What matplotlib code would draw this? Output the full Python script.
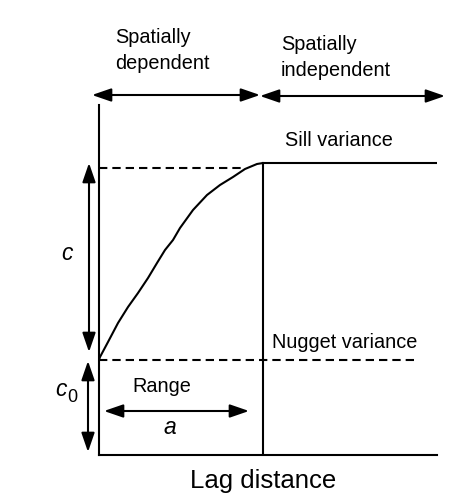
import matplotlib
matplotlib.use("Agg")
import matplotlib.pyplot as plt

plt.rcParams['font.family'] = ['Liberation Sans', 'DejaVu Sans']
plt.rcParams['mathtext.fontset'] = 'custom'
plt.rcParams['mathtext.it'] = 'Liberation Sans:italic'
plt.rcParams['mathtext.rm'] = 'Liberation Sans'

# Semivariogram data (arbitrary lag / variance units)
lag = [0, 1, 9, 19, 29, 39, 49, 58, 66, 74, 81, 94, 108, 121, 134, 146, 158, 164]
gamma = [95, 98, 113, 132, 148, 162, 177, 192, 205, 215, 227, 245, 260, 270,
         278, 286, 291, 292]
nugget = 95
sill = 292
sill_dashed = 287
range_a = 164
x_max = 338
y_max = 350
nugget_dash_end = 319
sill_dash_end = 145

labels_top = ["Spatially\ndependent", "Spatially\nindependent"]
label_sill = "Sill variance"
label_nugget = "Nugget variance"
label_range = "Range"
xlabel = "Lag distance"

fig = plt.figure(figsize=(4.74, 4.97), dpi=100)
ax = fig.add_axes([99 / 474, 42 / 497, 338 / 474, 350 / 497])
ax.set_xlim(0, x_max)
ax.set_ylim(0, y_max)
for s in ['top', 'right']:
    ax.spines[s].set_visible(False)
for s in ['left', 'bottom']:
    ax.spines[s].set_linewidth(1.5)
ax.set_xticks([])
ax.set_yticks([])

lw = 1.5
# curve
ax.plot(lag, gamma, color='black', lw=lw, solid_joinstyle='round',
        solid_capstyle='round')
# sill flat line
ax.plot([range_a, x_max], [sill, sill], color='black', lw=lw)
# range vertical line
ax.plot([range_a, range_a], [0, sill], color='black', lw=lw)
# dashed lines
ax.plot([0, sill_dash_end], [sill_dashed, sill_dashed], color='black', lw=1.5,
        dashes=(4.0, 2.4))
ax.plot([0, nugget_dash_end], [nugget, nugget], color='black', lw=1.5,
        dashes=(4.0, 2.4))

astyle = dict(arrowstyle='<|-|>,head_length=0.58,head_width=0.2',
              color='black', lw=lw, shrinkA=0, shrinkB=0, mutation_scale=20)

def darrow(p1, p2):
    ax.annotate('', xy=p2, xytext=p1, arrowprops=astyle,
                annotation_clip=False)

# top arrows
darrow((-7, 360), (161, 360))
darrow((161, 359), (346, 359))
# c arrow
darrow((-10, sill), (-10, 103))
# c0 arrow
darrow((-11, 94), (-11, 3))
# range arrow
darrow((5, 44), (150, 44))

fs = 14.3
ax.text(16, 404.5, labels_top[0], fontsize=fs, ha='left', va='center',
        linespacing=1.5, clip_on=False)
ax.text(182, 397.5, labels_top[1], fontsize=fs, ha='left', va='center',
        linespacing=1.5, clip_on=False)
ax.text(186, 314, label_sill, fontsize=fs, ha='left', va='center')
ax.text(173, 113, label_nugget, fontsize=fs, ha='left', va='center')
ax.text(63, 68, label_range, fontsize=fs, ha='center', va='center')
ax.text(71, 27, r'$a$', fontsize=16.5, ha='center', va='center')
ax.text(-31, 201, r'$c$', fontsize=16.5, ha='center', va='center', clip_on=False)
ax.text(-37, 66, r'$c$', fontsize=16.5, ha='center', va='center', clip_on=False)
ax.text(-31.5, 58, '0', fontsize=13, ha='left', va='center', clip_on=False)
ax.text(164, -26, xlabel, fontsize=18.5, ha='center', va='center',
        clip_on=False)

fig.savefig('out.png', dpi=100)
